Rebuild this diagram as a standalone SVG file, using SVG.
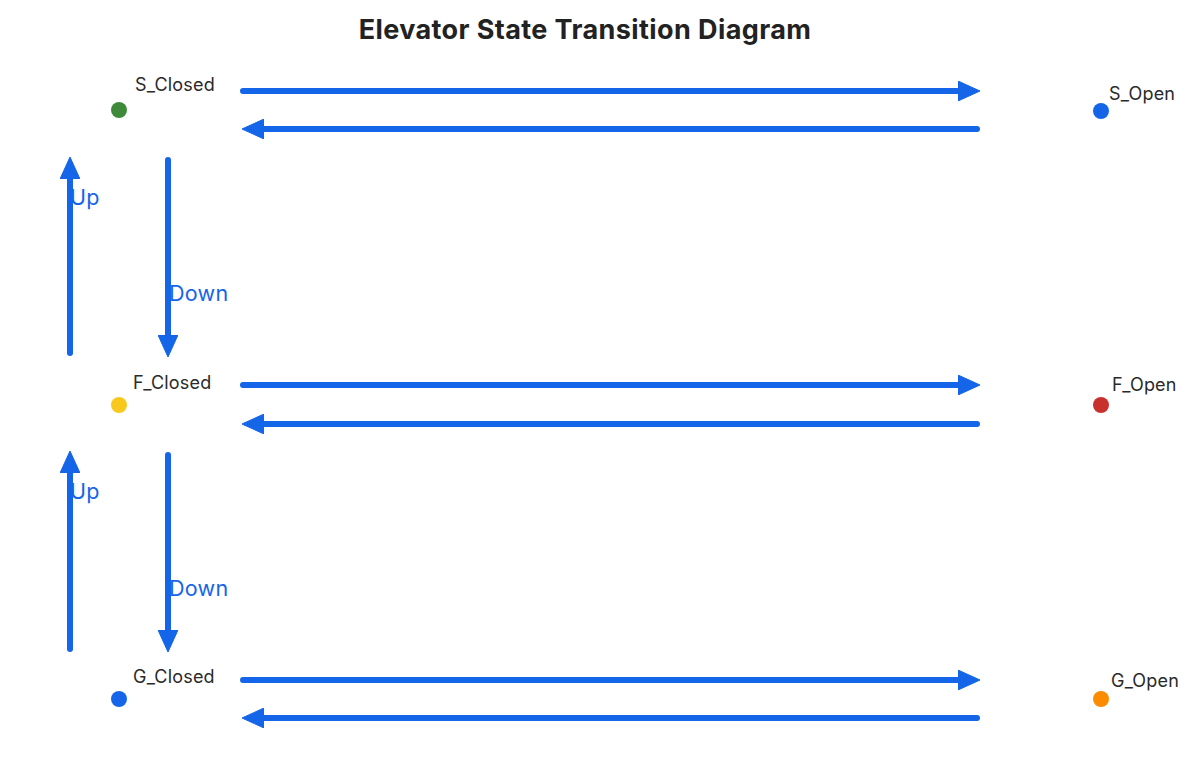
<svg xmlns="http://www.w3.org/2000/svg" width="1200" height="769" viewBox="0 0 1200 769">
<style>
.bg{fill:#ffffff}
.title{font-family:Inter,"Liberation Sans",sans-serif;font-size:27px;font-weight:700;fill:#222222;letter-spacing:0.4px}
.lbl{font-family:Inter,"Liberation Sans",sans-serif;font-size:18px;fill:#2a2a2a;letter-spacing:0.2px}
.elbl{font-family:Inter,"Liberation Sans",sans-serif;font-size:21.5px;fill:#1565e8;letter-spacing:0.3px}
.edge{stroke:#1565e8;stroke-width:6;stroke-linecap:round;fill:none}
</style>
<defs>
<marker id="ah" viewBox="0 0 22 20" refX="10" refY="10" markerWidth="22" markerHeight="20" markerUnits="userSpaceOnUse" orient="auto">
<path d="M0,0 L22,10 L0,20 Z" fill="#1565e8" stroke="#1565e8" stroke-width="1" stroke-linejoin="round"/>
</marker>
</defs>
<rect class="bg" x="0" y="0" width="1200" height="769"/>
<text class="title" x="585" y="39" text-anchor="middle">Elevator State Transition Diagram</text>
<g id="connectors">
<line class="edge" x1="243" y1="91" x2="968" y2="91" marker-end="url(#ah)"/>
<line class="edge" x1="977" y1="129" x2="254" y2="129" marker-end="url(#ah)"/>
<line class="edge" x1="243" y1="385" x2="968" y2="385" marker-end="url(#ah)"/>
<line class="edge" x1="977" y1="424" x2="254" y2="424" marker-end="url(#ah)"/>
<line class="edge" x1="243" y1="680" x2="968" y2="680" marker-end="url(#ah)"/>
<line class="edge" x1="977" y1="718" x2="254" y2="718" marker-end="url(#ah)"/>
<line class="edge" x1="70" y1="353" x2="70" y2="169" marker-end="url(#ah)"/>
<line class="edge" x1="168" y1="160" x2="168" y2="345" marker-end="url(#ah)"/>
<line class="edge" x1="70" y1="649" x2="70" y2="463" marker-end="url(#ah)"/>
<line class="edge" x1="168" y1="455" x2="168" y2="640" marker-end="url(#ah)"/>
<text class="elbl" x="70" y="205">Up</text>
<text class="elbl" x="169" y="301">Down</text>
<text class="elbl" x="70" y="499">Up</text>
<text class="elbl" x="169" y="596">Down</text>
</g>
<g id="S_Closed">
<circle cx="119" cy="110" r="8" fill="#3f8a3a"/>
<text class="lbl" x="135" y="91">S_Closed</text>
</g>
<g id="S_Open">
<circle cx="1101" cy="111" r="8" fill="#1565e8"/>
<text class="lbl" x="1109" y="100">S_Open</text>
</g>
<g id="F_Closed">
<circle cx="119" cy="405" r="8" fill="#f8c91c"/>
<text class="lbl" x="133" y="389">F_Closed</text>
</g>
<g id="F_Open">
<circle cx="1101" cy="405" r="8" fill="#c8302e"/>
<text class="lbl" x="1112" y="391">F_Open</text>
</g>
<g id="G_Closed">
<circle cx="119" cy="699" r="8" fill="#1565e8"/>
<text class="lbl" x="133" y="683">G_Closed</text>
</g>
<g id="G_Open">
<circle cx="1101" cy="699" r="8" fill="#fb8c00"/>
<text class="lbl" x="1111" y="687">G_Open</text>
</g>
</svg>
